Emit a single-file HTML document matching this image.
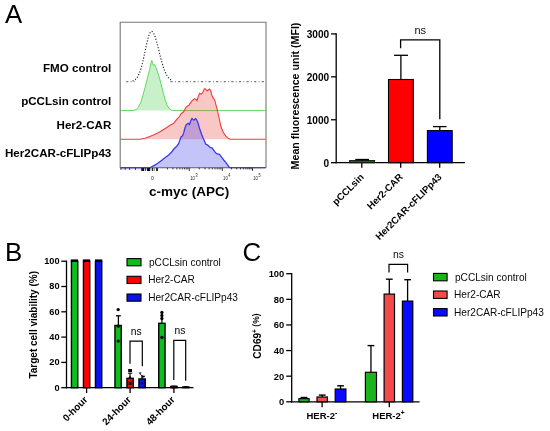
<!DOCTYPE html>
<html><head><meta charset="utf-8"><title>Figure</title>
<style>
html,body{margin:0;padding:0;background:#fff;}
body{width:550px;height:431px;overflow:hidden;}
svg{display:block;font-family:"Liberation Sans", Arial, Helvetica, sans-serif;}
</style></head><body>
<svg width="550" height="431" viewBox="0 0 550 431">
<rect x="0" y="0" width="550" height="431" fill="#fff"/>
<text x="5.0" y="23.1" font-size="25.8" font-weight="normal" text-anchor="start" fill="#000" >A</text>
<text x="5.1" y="260.8" font-size="25.8" font-weight="normal" text-anchor="start" fill="#000" >B</text>
<text x="242.4" y="260.6" font-size="25.8" font-weight="normal" text-anchor="start" fill="#000" >C</text>
<text x="111.3" y="72.1" font-size="11.6" font-weight="bold" text-anchor="end" fill="#000" >FMO control</text>
<text x="111.3" y="105.1" font-size="11.6" font-weight="bold" text-anchor="end" fill="#000" >pCCLsin control</text>
<text x="111.3" y="129.2" font-size="11.6" font-weight="bold" text-anchor="end" fill="#000" >Her2-CAR</text>
<text x="111.3" y="157.2" font-size="11.6" font-weight="bold" text-anchor="end" fill="#000" >Her2CAR-cFLIPp43</text>
<path d="M132.5,81.0 L133.2,80.8 L133.9,80.5 L134.6,80.1 L135.3,79.6 L136.0,78.9 L136.7,78.1 L137.4,77.2 L138.1,76.0 L138.8,74.6 L139.5,72.9 L140.2,71.0 L140.9,68.8 L141.6,66.4 L142.3,63.7 L143.0,60.8 L143.7,57.7 L144.4,54.4 L145.1,51.1 L145.8,47.8 L146.5,44.5 L147.2,41.5 L147.9,38.7 L148.6,36.2 L149.3,34.2 L150.0,32.7 L150.7,31.7 L151.4,31.3 L152.1,31.5 L152.8,32.0 L153.5,33.1 L154.2,34.5 L154.9,36.2 L155.6,38.3 L156.3,40.6 L157.0,43.2 L157.7,45.9 L158.4,48.7 L159.1,51.5 L159.8,54.3 L160.5,57.1 L161.2,59.8 L161.9,62.4 L162.6,64.8 L163.3,67.0 L164.0,69.1 L164.7,70.9 L165.4,72.6 L166.1,74.0 L166.8,75.3 L167.5,76.4 L168.2,77.4 L168.9,78.2 L169.6,78.9 L170.3,79.4 L171.0,79.9 L171.7,80.3" fill="none" stroke="#1a1a1a" stroke-width="1.15" stroke-dasharray="1.1 1.8"/>
<line x1="126.2" y1="81.6" x2="134.5" y2="81.6" stroke="#777" stroke-width="1.1" stroke-dasharray="2.2 2.3 0.8 2.3"/>
<line x1="170.5" y1="81.6" x2="266.0" y2="81.6" stroke="#777" stroke-width="1.1" stroke-dasharray="2.2 2.3 0.8 2.3"/>
<path d="M120.5,110.6 L120.5,110.6 L133.0,110.5 L136.0,109.6 L138.5,107.2 L140.8,102.5 L143.0,95.0 L145.2,87.0 L147.5,78.0 L149.6,69.5 L151.0,63.0 L151.9,60.4 L152.6,63.5 L153.3,65.4 L154.5,64.3 L155.4,66.2 L157.0,70.5 L159.2,77.0 L161.3,85.0 L163.3,93.0 L165.2,100.0 L167.0,105.0 L169.0,108.4 L171.5,110.2 L174.0,110.6 L265.5,110.6 L265.5,110.6 Z" fill="rgba(60,205,60,0.28)" stroke="none"/>
<path d="M120.5,110.6 L133.0,110.5 L136.0,109.6 L138.5,107.2 L140.8,102.5 L143.0,95.0 L145.2,87.0 L147.5,78.0 L149.6,69.5 L151.0,63.0 L151.9,60.4 L152.6,63.5 L153.3,65.4 L154.5,64.3 L155.4,66.2 L157.0,70.5 L159.2,77.0 L161.3,85.0 L163.3,93.0 L165.2,100.0 L167.0,105.0 L169.0,108.4 L171.5,110.2 L174.0,110.6 L265.5,110.6" fill="none" stroke="#62d862" stroke-width="1.0"/>
<path d="M120.5,139.3 L120.5,139.3 L140.0,139.2 L145.0,138.3 L149.1,136.7 L153.5,134.9 L158.2,132.7 L162.5,130.3 L166.4,127.8 L170.5,125.0 L173.4,123.6 L176.6,119.7 L179.4,116.5 L181.3,113.5 L183.1,112.3 L184.5,110.4 L185.7,107.7 L187.3,106.3 L189.2,104.9 L190.6,102.6 L192.4,100.5 L194.3,98.8 L195.7,99.3 L197.0,100.7 L198.4,96.1 L199.6,93.3 L201.2,94.2 L202.6,92.8 L204.0,89.6 L204.9,88.5 L205.9,89.6 L207.1,91.0 L208.4,89.8 L209.6,89.1 L210.8,91.0 L211.9,95.6 L213.3,97.9 L214.7,100.2 L216.1,105.3 L217.0,108.6 L218.2,114.0 L219.3,119.0 L220.3,123.6 L221.3,127.8 L222.8,131.2 L224.3,133.9 L225.8,135.8 L227.2,137.3 L228.6,138.6 L230.1,139.3 L265.5,139.3 L265.5,139.3 Z" fill="rgba(240,70,70,0.30)" stroke="none"/>
<path d="M120.5,139.3 L140.0,139.2 L145.0,138.3 L149.1,136.7 L153.5,134.9 L158.2,132.7 L162.5,130.3 L166.4,127.8 L170.5,125.0 L173.4,123.6 L176.6,119.7 L179.4,116.5 L181.3,113.5 L183.1,112.3 L184.5,110.4 L185.7,107.7 L187.3,106.3 L189.2,104.9 L190.6,102.6 L192.4,100.5 L194.3,98.8 L195.7,99.3 L197.0,100.7 L198.4,96.1 L199.6,93.3 L201.2,94.2 L202.6,92.8 L204.0,89.6 L204.9,88.5 L205.9,89.6 L207.1,91.0 L208.4,89.8 L209.6,89.1 L210.8,91.0 L211.9,95.6 L213.3,97.9 L214.7,100.2 L216.1,105.3 L217.0,108.6 L218.2,114.0 L219.3,119.0 L220.3,123.6 L221.3,127.8 L222.8,131.2 L224.3,133.9 L225.8,135.8 L227.2,137.3 L228.6,138.6 L230.1,139.3 L265.5,139.3" fill="none" stroke="#ef3c3c" stroke-width="1.1"/>
<path d="M120.5,167.6 L120.5,167.6 L148.0,167.6 L150.6,167.3 L155.7,164.7 L160.8,160.9 L165.9,157.1 L168.4,155.2 L171.6,152.0 L174.1,148.8 L176.7,146.3 L178.6,143.7 L179.9,139.9 L181.2,136.7 L182.4,136.0 L183.7,132.9 L185.0,127.8 L186.3,124.6 L188.2,123.3 L189.5,124.6 L190.7,120.7 L192.0,118.6 L193.0,119.5 L193.9,120.1 L194.8,119.3 L195.8,118.6 L196.7,120.0 L197.7,122.0 L198.7,125.4 L199.4,128.0 L200.6,131.5 L201.8,134.8 L203.0,137.8 L204.3,140.7 L205.7,144.1 L207.7,145.1 L210.1,147.5 L212.1,148.0 L213.3,149.6 L214.5,151.4 L216.5,153.6 L219.4,154.3 L220.8,156.2 L222.3,158.2 L223.7,160.0 L225.2,161.7 L227.0,164.2 L228.7,166.5 L229.6,167.6 L265.5,167.6 L265.5,167.6 Z" fill="rgba(70,70,235,0.32)" stroke="none"/>
<path d="M120.5,167.6 L148.0,167.6 L150.6,167.3 L155.7,164.7 L160.8,160.9 L165.9,157.1 L168.4,155.2 L171.6,152.0 L174.1,148.8 L176.7,146.3 L178.6,143.7 L179.9,139.9 L181.2,136.7 L182.4,136.0 L183.7,132.9 L185.0,127.8 L186.3,124.6 L188.2,123.3 L189.5,124.6 L190.7,120.7 L192.0,118.6 L193.0,119.5 L193.9,120.1 L194.8,119.3 L195.8,118.6 L196.7,120.0 L197.7,122.0 L198.7,125.4 L199.4,128.0 L200.6,131.5 L201.8,134.8 L203.0,137.8 L204.3,140.7 L205.7,144.1 L207.7,145.1 L210.1,147.5 L212.1,148.0 L213.3,149.6 L214.5,151.4 L216.5,153.6 L219.4,154.3 L220.8,156.2 L222.3,158.2 L223.7,160.0 L225.2,161.7 L227.0,164.2 L228.7,166.5 L229.6,167.6 L265.5,167.6" fill="none" stroke="#3a3ae8" stroke-width="1.3"/>
<path d="M120.2,167.8 L120.2,22.3 L266.0,22.3 L266.0,167.8" fill="none" stroke="#777" stroke-width="1.1"/>
<line x1="120.2" y1="167.8" x2="266.0" y2="167.8" stroke="#555" stroke-width="1.1" />
<line x1="120.5" y1="168.7" x2="151" y2="168.7" stroke="rgba(110,110,235,0.35)" stroke-width="1.6" />
<rect x="141.3" y="168.0" width="2.9" height="3.0" fill="#111"/>
<rect x="145.2" y="168.0" width="0.7" height="3.0" fill="#111"/>
<rect x="146.9" y="168.0" width="3.3" height="3.0" fill="#111"/>
<rect x="151.8" y="168.0" width="1.1" height="3.0" fill="#111"/>
<rect x="153.8" y="168.0" width="0.6" height="3.0" fill="#111"/>
<rect x="156.2" y="168.0" width="1.6" height="3.0" fill="#111"/>
<line x1="121.0" y1="167.8" x2="121.0" y2="169.8" stroke="#222" stroke-width="0.9" />
<line x1="125.2" y1="167.8" x2="125.2" y2="169.8" stroke="#222" stroke-width="0.9" />
<line x1="129.6" y1="167.8" x2="129.6" y2="169.8" stroke="#222" stroke-width="0.9" />
<line x1="135.5" y1="167.8" x2="135.5" y2="169.8" stroke="#222" stroke-width="0.9" />
<line x1="167.4222388642826" y1="167.8" x2="167.4222388642826" y2="169.4" stroke="#222" stroke-width="0.9" />
<line x1="172.93389527272544" y1="167.8" x2="172.93389527272544" y2="169.4" stroke="#222" stroke-width="0.9" />
<line x1="176.8444777285652" y1="167.8" x2="176.8444777285652" y2="169.4" stroke="#222" stroke-width="0.9" />
<line x1="179.87776113571738" y1="167.8" x2="179.87776113571738" y2="169.4" stroke="#222" stroke-width="0.9" />
<line x1="182.35613413700804" y1="167.8" x2="182.35613413700804" y2="169.4" stroke="#222" stroke-width="0.9" />
<line x1="184.45156865244624" y1="167.8" x2="184.45156865244624" y2="169.4" stroke="#222" stroke-width="0.9" />
<line x1="186.26671659284784" y1="167.8" x2="186.26671659284784" y2="169.4" stroke="#222" stroke-width="0.9" />
<line x1="187.86779054545087" y1="167.8" x2="187.86779054545087" y2="169.4" stroke="#222" stroke-width="0.9" />
<line x1="199.2339898569114" y1="167.8" x2="199.2339898569114" y2="169.4" stroke="#222" stroke-width="0.9" />
<line x1="205.04500140574888" y1="167.8" x2="205.04500140574888" y2="169.4" stroke="#222" stroke-width="0.9" />
<line x1="209.16797971382277" y1="167.8" x2="209.16797971382277" y2="169.4" stroke="#222" stroke-width="0.9" />
<line x1="212.36601014308863" y1="167.8" x2="212.36601014308863" y2="169.4" stroke="#222" stroke-width="0.9" />
<line x1="214.97899126266026" y1="167.8" x2="214.97899126266026" y2="169.4" stroke="#222" stroke-width="0.9" />
<line x1="217.18823532047048" y1="167.8" x2="217.18823532047048" y2="169.4" stroke="#222" stroke-width="0.9" />
<line x1="219.10196957073416" y1="167.8" x2="219.10196957073416" y2="169.4" stroke="#222" stroke-width="0.9" />
<line x1="220.79000281149774" y1="167.8" x2="220.79000281149774" y2="169.4" stroke="#222" stroke-width="0.9" />
<line x1="231.39110586905224" y1="167.8" x2="231.39110586905224" y2="169.4" stroke="#222" stroke-width="0.9" />
<line x1="236.7090618925338" y1="167.8" x2="236.7090618925338" y2="169.4" stroke="#222" stroke-width="0.9" />
<line x1="240.48221173810447" y1="167.8" x2="240.48221173810447" y2="169.4" stroke="#222" stroke-width="0.9" />
<line x1="243.40889413094777" y1="167.8" x2="243.40889413094777" y2="169.4" stroke="#222" stroke-width="0.9" />
<line x1="245.80016776158604" y1="167.8" x2="245.80016776158604" y2="169.4" stroke="#222" stroke-width="0.9" />
<line x1="247.82196080843056" y1="167.8" x2="247.82196080843056" y2="169.4" stroke="#222" stroke-width="0.9" />
<line x1="249.5733176071567" y1="167.8" x2="249.5733176071567" y2="169.4" stroke="#222" stroke-width="0.9" />
<line x1="251.1181237850676" y1="167.8" x2="251.1181237850676" y2="169.4" stroke="#222" stroke-width="0.9" />
<line x1="189.3" y1="167.8" x2="189.3" y2="171.0" stroke="#222" stroke-width="0.9" />
<line x1="222.3" y1="167.8" x2="222.3" y2="171.0" stroke="#222" stroke-width="0.9" />
<line x1="252.5" y1="167.8" x2="252.5" y2="171.0" stroke="#222" stroke-width="0.9" />
<line x1="157.0" y1="167.8" x2="157.0" y2="171.0" stroke="#222" stroke-width="0.9" />
<text x="152.4" y="179.7" font-size="5.2" font-weight="normal" text-anchor="middle" fill="#333" >0</text>
<text transform="translate(190.2,179.6) scale(0.8,1)" font-size="5.3" fill="#222">10<tspan dx="0.6" dy="-3.1" font-size="4.8">3</tspan></text>
<text transform="translate(223.1,179.6) scale(0.8,1)" font-size="5.3" fill="#222">10<tspan dx="0.6" dy="-3.1" font-size="4.8">4</tspan></text>
<text transform="translate(253.2,179.6) scale(0.8,1)" font-size="5.3" fill="#222">10<tspan dx="0.6" dy="-3.1" font-size="4.8">5</tspan></text>
<text x="189.2" y="196.1" font-size="13.5" font-weight="bold" text-anchor="middle" fill="#000" >c-myc (APC)</text>
<line x1="336.2" y1="33.3" x2="336.2" y2="163.29999999999998" stroke="#000" stroke-width="1.3" />
<line x1="335.59999999999997" y1="162.7" x2="465" y2="162.7" stroke="#000" stroke-width="1.3" />
<line x1="331.0" y1="162.7" x2="336.2" y2="162.7" stroke="#000" stroke-width="1.3" />
<text x="329.2" y="166.6" font-size="10.1" font-weight="bold" text-anchor="end" fill="#000" >0</text>
<line x1="331.0" y1="119.76999999999998" x2="336.2" y2="119.76999999999998" stroke="#000" stroke-width="1.3" />
<text x="329.2" y="123.66999999999999" font-size="10.1" font-weight="bold" text-anchor="end" fill="#000" >1000</text>
<line x1="331.0" y1="76.83999999999999" x2="336.2" y2="76.83999999999999" stroke="#000" stroke-width="1.3" />
<text x="329.2" y="80.74" font-size="10.1" font-weight="bold" text-anchor="end" fill="#000" >2000</text>
<line x1="331.0" y1="33.90999999999997" x2="336.2" y2="33.90999999999997" stroke="#000" stroke-width="1.3" />
<text x="329.2" y="37.80999999999997" font-size="10.1" font-weight="bold" text-anchor="end" fill="#000" >3000</text>
<line x1="361.8" y1="162.7" x2="361.8" y2="167.8" stroke="#000" stroke-width="1.3" />
<line x1="400.7" y1="162.7" x2="400.7" y2="167.8" stroke="#000" stroke-width="1.3" />
<line x1="439.7" y1="162.7" x2="439.7" y2="167.8" stroke="#000" stroke-width="1.3" />
<rect x="349.6" y="160.6" width="25.0" height="2.0999999999999943" fill="#1d6e1d" stroke="#111" stroke-width="1.0"/>
<rect x="388.5" y="79.5" width="24.8" height="83.19999999999999" fill="#ff0000" stroke="#000" stroke-width="1.1"/>
<rect x="427.4" y="130.6" width="24.8" height="32.099999999999994" fill="#0000ff" stroke="#000" stroke-width="1.1"/>
<line x1="362" y1="159.6" x2="362" y2="160.6" stroke="#000" stroke-width="1.3" />
<line x1="355.3" y1="159.6" x2="369.0" y2="159.6" stroke="#000" stroke-width="1.5" />
<line x1="400.9" y1="55.3" x2="400.9" y2="79.5" stroke="#000" stroke-width="1.3" />
<line x1="394.0" y1="55.3" x2="408.0" y2="55.3" stroke="#000" stroke-width="1.3" />
<line x1="439.8" y1="126.6" x2="439.8" y2="130.6" stroke="#000" stroke-width="1.3" />
<line x1="433.0" y1="126.6" x2="446.5" y2="126.6" stroke="#000" stroke-width="1.3" />
<path d="M400.6,48.2 L400.6,39.9 L439.8,39.9 L439.8,119.2" fill="none" stroke="#000" stroke-width="1.3"/>
<text x="420.2" y="34.0" font-size="11.0" font-weight="normal" text-anchor="middle" fill="#111" >ns</text>
<text transform="translate(299.3,96) rotate(-90)" font-size="10.67" font-weight="bold" text-anchor="middle">Mean fluorescence unit (MFI)</text>
<text transform="translate(364.5,177.6) rotate(-45)" font-size="9.7" font-weight="bold" text-anchor="end">pCCLsin</text>
<text transform="translate(403.4,177.6) rotate(-45)" font-size="9.7" font-weight="bold" text-anchor="end">Her2-CAR</text>
<text transform="translate(442.4,177.6) rotate(-45)" font-size="9.7" font-weight="bold" text-anchor="end">Her2CAR-cFLIPp43</text>
<line x1="66.5" y1="260.6" x2="66.5" y2="388.3" stroke="#000" stroke-width="1.3" />
<line x1="65.9" y1="387.7" x2="193.5" y2="387.7" stroke="#000" stroke-width="1.3" />
<line x1="61.3" y1="387.7" x2="66.5" y2="387.7" stroke="#000" stroke-width="1.3" />
<text x="59.6" y="390.59999999999997" font-size="9.2" font-weight="bold" text-anchor="end" fill="#000" >0</text>
<line x1="61.3" y1="362.4" x2="66.5" y2="362.4" stroke="#000" stroke-width="1.3" />
<text x="59.6" y="365.29999999999995" font-size="9.2" font-weight="bold" text-anchor="end" fill="#000" >20</text>
<line x1="61.3" y1="337.1" x2="66.5" y2="337.1" stroke="#000" stroke-width="1.3" />
<text x="59.6" y="340.0" font-size="9.2" font-weight="bold" text-anchor="end" fill="#000" >40</text>
<line x1="61.3" y1="311.8" x2="66.5" y2="311.8" stroke="#000" stroke-width="1.3" />
<text x="59.6" y="314.7" font-size="9.2" font-weight="bold" text-anchor="end" fill="#000" >60</text>
<line x1="61.3" y1="286.5" x2="66.5" y2="286.5" stroke="#000" stroke-width="1.3" />
<text x="59.6" y="289.4" font-size="9.2" font-weight="bold" text-anchor="end" fill="#000" >80</text>
<line x1="61.3" y1="261.2" x2="66.5" y2="261.2" stroke="#000" stroke-width="1.3" />
<text x="59.6" y="264.09999999999997" font-size="9.2" font-weight="bold" text-anchor="end" fill="#000" >100</text>
<line x1="86.6" y1="387.7" x2="86.6" y2="393.0" stroke="#000" stroke-width="1.3" />
<line x1="130.1" y1="387.7" x2="130.1" y2="393.0" stroke="#000" stroke-width="1.3" />
<line x1="173.9" y1="387.7" x2="173.9" y2="393.0" stroke="#000" stroke-width="1.3" />
<rect x="71.44999999999999" y="261.2" width="6.3" height="126.5" fill="#0cbf1c" stroke="#000" stroke-width="1.4"/>
<rect x="83.44999999999999" y="261.2" width="6.3" height="126.5" fill="#ff0000" stroke="#000" stroke-width="1.4"/>
<rect x="95.44999999999999" y="261.2" width="6.3" height="126.5" fill="#0a12f0" stroke="#000" stroke-width="1.4"/>
<rect x="114.94999999999999" y="325.462" width="6.3" height="62.238" fill="#0cbf1c" stroke="#000" stroke-width="1.4"/>
<rect x="126.94999999999999" y="378.339" width="6.3" height="9.36099999999999" fill="#ff0000" stroke="#000" stroke-width="1.4"/>
<rect x="138.95" y="378.9715" width="6.3" height="8.728499999999997" fill="#0a12f0" stroke="#000" stroke-width="1.4"/>
<rect x="158.75" y="323.3115" width="6.3" height="64.38849999999996" fill="#0cbf1c" stroke="#000" stroke-width="1.4"/>
<rect x="170.75" y="386.435" width="6.3" height="1.2649999999999864" fill="#ff0000" stroke="#000" stroke-width="1.4"/>
<rect x="182.75" y="387.0675" width="6.3" height="0.6324999999999932" fill="#0a12f0" stroke="#000" stroke-width="1.4"/>
<line x1="70.80000000000001" y1="260.7" x2="78.0" y2="260.7" stroke="#000" stroke-width="2.6" />
<line x1="82.9" y1="260.7" x2="90.1" y2="260.7" stroke="#000" stroke-width="2.6" />
<line x1="95.0" y1="260.7" x2="102.19999999999999" y2="260.7" stroke="#000" stroke-width="2.6" />
<line x1="118.4" y1="315.8" x2="118.4" y2="325.4" stroke="#000" stroke-width="1.3" />
<line x1="116.0" y1="315.8" x2="120.8" y2="315.8" stroke="#000" stroke-width="1.3" />
<circle cx="118.2" cy="309.6" r="1.65" fill="#000"/>
<circle cx="118.2" cy="341.1" r="1.65" fill="#000"/>
<circle cx="118.2" cy="326.2" r="1.65" fill="#000"/>
<line x1="130.0" y1="373.2" x2="130.0" y2="378.4" stroke="#000" stroke-width="1.2" />
<line x1="127.9" y1="373.2" x2="132.3" y2="373.2" stroke="#000" stroke-width="1.0" />
<rect x="128.2" y="369.0" width="3.8" height="3.1" fill="#000"/>
<rect x="128.7" y="381.8" width="2.8" height="3.2" fill="#000"/>
<path d="M128.4,378.0 L130.0,375.8 L131.7,378.0 Z" fill="#000"/>
<line x1="142.1" y1="375.5" x2="142.1" y2="379.0" stroke="#000" stroke-width="1.2" />
<path d="M138.6,372.4 L141.6,372.4 L140.1,374.6 Z" fill="#000"/>
<line x1="140.3" y1="374.2" x2="142.0" y2="376.0" stroke="#000" stroke-width="0.9" />
<line x1="141.6" y1="376.3" x2="145.0" y2="376.3" stroke="#000" stroke-width="1.1" />
<path d="M141.0,377.6 L142.9,375.2 L144.6,377.6 Z" fill="#000"/>
<path d="M140.8,382.5 L143.4,382.5 L142.1,384.7 Z" fill="#000"/>
<circle cx="161.9" cy="312.5" r="1.65" fill="#000"/>
<circle cx="161.9" cy="315.5" r="1.65" fill="#000"/>
<circle cx="161.9" cy="318.5" r="1.65" fill="#000"/>
<circle cx="161.9" cy="337.5" r="1.65" fill="#000"/>
<line x1="161.9" y1="312.5" x2="161.9" y2="323.3" stroke="#000" stroke-width="1.2" />
<ellipse cx="173.9" cy="386.9" rx="3.6" ry="1.4" fill="#000"/>
<ellipse cx="185.9" cy="387.0" rx="3.0" ry="0.9" fill="#000"/>
<path d="M130.0,363.7 L130.0,341.1 L142.3,341.1 L142.3,366.2" fill="none" stroke="#000" stroke-width="1.2"/>
<text x="136.2" y="334.6" font-size="10.3" font-weight="normal" text-anchor="middle" fill="#000" >ns</text>
<path d="M173.8,380.0 L173.8,340.4 L185.7,340.4 L185.7,380.7" fill="none" stroke="#000" stroke-width="1.2"/>
<text x="179.9" y="333.8" font-size="10.3" font-weight="normal" text-anchor="middle" fill="#000" >ns</text>
<text transform="translate(36.8,324.8) rotate(-90)" font-size="10.0" font-weight="bold" text-anchor="middle">Target cell viability (%)</text>
<text transform="translate(88.3,400.3) rotate(-45)" font-size="9.85" font-weight="bold" text-anchor="end">0-hour</text>
<text transform="translate(131.8,400.3) rotate(-45)" font-size="9.85" font-weight="bold" text-anchor="end">24-hour</text>
<text transform="translate(175.5,400.3) rotate(-45)" font-size="9.85" font-weight="bold" text-anchor="end">48-hour</text>
<rect x="127.0" y="258.59999999999997" width="14.0" height="7.2" fill="#0cbf1c" stroke="#000" stroke-width="1.1"/>
<text x="149.0" y="265.7" font-size="10.1" font-weight="normal" text-anchor="start" fill="#0a0a0a" >pCCLsin control</text>
<rect x="127.0" y="276.29999999999995" width="14.0" height="7.2" fill="#ff0000" stroke="#000" stroke-width="1.1"/>
<text x="148.2" y="283.4" font-size="10.1" font-weight="normal" text-anchor="start" fill="#0a0a0a" >Her2-CAR</text>
<rect x="127.0" y="293.99999999999994" width="14.0" height="7.2" fill="#0a12f0" stroke="#000" stroke-width="1.1"/>
<text x="148.2" y="301.09999999999997" font-size="10.1" font-weight="normal" text-anchor="start" fill="#0a0a0a" >Her2CAR-cFLIPp43</text>
<line x1="291.7" y1="273.1" x2="291.7" y2="402.40000000000003" stroke="#000" stroke-width="1.3" />
<line x1="291.09999999999997" y1="401.8" x2="419.6" y2="401.8" stroke="#000" stroke-width="1.3" />
<line x1="286.2" y1="401.8" x2="291.7" y2="401.8" stroke="#000" stroke-width="1.3" />
<text x="284.3" y="405.2" font-size="9.4" font-weight="bold" text-anchor="end" fill="#000" >0</text>
<line x1="286.2" y1="376.18" x2="291.7" y2="376.18" stroke="#000" stroke-width="1.3" />
<text x="284.3" y="379.58" font-size="9.4" font-weight="bold" text-anchor="end" fill="#000" >20</text>
<line x1="286.2" y1="350.56" x2="291.7" y2="350.56" stroke="#000" stroke-width="1.3" />
<text x="284.3" y="353.96" font-size="9.4" font-weight="bold" text-anchor="end" fill="#000" >40</text>
<line x1="286.2" y1="324.94" x2="291.7" y2="324.94" stroke="#000" stroke-width="1.3" />
<text x="284.3" y="328.34" font-size="9.4" font-weight="bold" text-anchor="end" fill="#000" >60</text>
<line x1="286.2" y1="299.32000000000005" x2="291.7" y2="299.32000000000005" stroke="#000" stroke-width="1.3" />
<text x="284.3" y="302.72" font-size="9.4" font-weight="bold" text-anchor="end" fill="#000" >80</text>
<line x1="286.2" y1="273.70000000000005" x2="291.7" y2="273.70000000000005" stroke="#000" stroke-width="1.3" />
<text x="284.3" y="277.1" font-size="9.4" font-weight="bold" text-anchor="end" fill="#000" >100</text>
<line x1="322.1" y1="401.8" x2="322.1" y2="407.3" stroke="#000" stroke-width="1.3" />
<line x1="389.3" y1="401.8" x2="389.3" y2="407.3" stroke="#000" stroke-width="1.3" />
<line x1="304.0" y1="397.5" x2="304.0" y2="398.6" stroke="#000" stroke-width="1.3" />
<line x1="300.6" y1="397.5" x2="307.4" y2="397.5" stroke="#000" stroke-width="1.4" />
<rect x="298.9" y="398.6" width="10.200000000000045" height="3.1999999999999886" fill="#1cb41c" stroke="#000" stroke-width="1.2"/>
<line x1="322.2" y1="395.1" x2="322.2" y2="397.0" stroke="#000" stroke-width="1.3" />
<line x1="318.8" y1="395.1" x2="325.59999999999997" y2="395.1" stroke="#000" stroke-width="1.4" />
<rect x="317.0" y="397.0" width="10.399999999999977" height="4.800000000000011" fill="#f54a4a" stroke="#000" stroke-width="1.2"/>
<line x1="340.54999999999995" y1="385.8" x2="340.54999999999995" y2="389.0" stroke="#000" stroke-width="1.3" />
<line x1="337.15" y1="385.8" x2="343.94999999999993" y2="385.8" stroke="#000" stroke-width="1.4" />
<rect x="335.2" y="389.0" width="10.699999999999989" height="12.800000000000011" fill="#0a0aff" stroke="#000" stroke-width="1.2"/>
<line x1="370.95" y1="345.6" x2="370.95" y2="372.3" stroke="#000" stroke-width="1.3" />
<line x1="367.55" y1="345.6" x2="374.34999999999997" y2="345.6" stroke="#000" stroke-width="1.4" />
<rect x="365.4" y="372.3" width="11.100000000000023" height="29.5" fill="#1cb41c" stroke="#000" stroke-width="1.2"/>
<line x1="389.3" y1="279.2" x2="389.3" y2="294.1" stroke="#000" stroke-width="1.3" />
<line x1="385.90000000000003" y1="279.2" x2="392.7" y2="279.2" stroke="#000" stroke-width="1.4" />
<rect x="384.1" y="294.1" width="10.399999999999977" height="107.69999999999999" fill="#f54a4a" stroke="#000" stroke-width="1.2"/>
<line x1="407.6" y1="279.7" x2="407.6" y2="301.1" stroke="#000" stroke-width="1.3" />
<line x1="404.20000000000005" y1="279.7" x2="411.0" y2="279.7" stroke="#000" stroke-width="1.4" />
<rect x="402.4" y="301.1" width="10.400000000000034" height="100.69999999999999" fill="#0a0aff" stroke="#000" stroke-width="1.2"/>
<path d="M389.0,272.4 L389.0,264.3 L407.6,264.3 L407.6,272.4" fill="none" stroke="#000" stroke-width="1.2"/>
<text x="398.4" y="258.0" font-size="10.4" font-weight="normal" text-anchor="middle" fill="#111" >ns</text>
<text x="306.5" y="419.0" font-size="9.5" font-weight="bold">HER-2<tspan dy="-4.0" font-size="6.6">-</tspan></text>
<text x="372.3" y="418.9" font-size="9.5" font-weight="bold">HER-2<tspan dy="-4.0" font-size="6.6">+</tspan></text>
<text transform="translate(260.7,358.7) rotate(-90)" font-size="10.1" font-weight="bold">CD69<tspan dy="-3.9" font-size="6.6">+</tspan><tspan dy="1.9" font-size="8.5"> (%)</tspan></text>
<rect x="433.5" y="273.4" width="13.6" height="7.4" fill="#1cb41c" stroke="#000" stroke-width="1.1"/>
<text x="455.0" y="280.5" font-size="10.1" font-weight="normal" text-anchor="start" fill="#0a0a0a" >pCCLsin control</text>
<rect x="433.5" y="291.0" width="13.6" height="7.4" fill="#f54a4a" stroke="#000" stroke-width="1.1"/>
<text x="454.0" y="298.1" font-size="10.1" font-weight="normal" text-anchor="start" fill="#0a0a0a" >Her2-CAR</text>
<rect x="433.5" y="308.59999999999997" width="13.6" height="7.4" fill="#0a0aff" stroke="#000" stroke-width="1.1"/>
<text x="454.0" y="315.7" font-size="10.1" font-weight="normal" text-anchor="start" fill="#0a0a0a" >Her2CAR-cFLIPp43</text>
</svg>
</body></html>
